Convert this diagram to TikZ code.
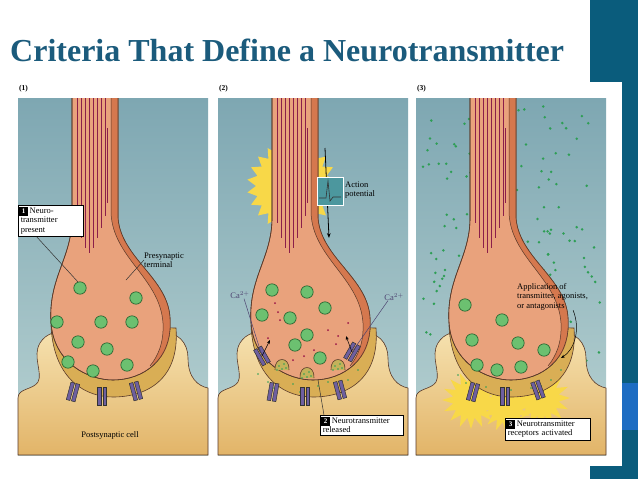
\documentclass[tikz,border=0pt]{standalone}
\usepackage{fontspec}
\setmainfont{Liberation Serif}
\usetikzlibrary{shapes.geometric,arrows.meta}
\definecolor{titleblue}{HTML}{1B5B7C}
\definecolor{barblue}{HTML}{0A5C7C}
\definecolor{bandblue}{HTML}{1D6CC2}
\definecolor{skytop}{HTML}{7EA7B2}
\definecolor{skybot}{HTML}{B8D2D2}
\definecolor{cellt}{HTML}{F6E2B0}
\definecolor{cellb}{HTML}{E2B468}
\definecolor{cleft}{HTML}{D9AE55}
\definecolor{bulb}{HTML}{E9A27C}
\definecolor{bulbd}{HTML}{D5784E}
\definecolor{strl}{HTML}{8B1E4A}
\definecolor{outl}{HTML}{5A3A2A}
\definecolor{ves}{HTML}{6CC070}
\definecolor{vesd}{HTML}{1D5E2A}
\definecolor{rcp}{HTML}{6E5FA0}
\definecolor{sun}{HTML}{F8D848}
\definecolor{dotg}{HTML}{2E9E55}
\tikzset{
  outline/.style={draw=outl,line width=0.6pt},
  vesicle/.style={fill=ves,draw=vesd,line width=0.6pt},
  rcpbar/.style={fill=rcp,draw=black!80,line width=0.5pt},
  lbox/.style={draw=black,fill=white,line width=0.5pt,font=\fontsize{8.5}{9.5}\selectfont,align=left,inner sep=2.5pt},
  lbl/.style={font=\fontsize{8.5}{9.5}\selectfont,align=left,inner sep=0pt},
  numsq/.style={fill=black,text=white,font=\fontsize{7}{7}\selectfont\bfseries,inner sep=1pt,minimum size=8.5pt},
  pnum/.style={font=\fontsize{7.5}{7.5}\selectfont\bfseries,inner sep=0pt},
  ptr/.style={draw=black!80,line width=0.5pt},
  burst/.style={star,star points=16,star point ratio=1.6,fill=sun,inner sep=0pt},
}
\newcommand\rcpt[3]{\begin{scope}[shift={(#1,#2)},rotate=#3]
 \filldraw[rcpbar] (-4.5,-9) rectangle (-0.8,9);
 \filldraw[rcpbar] (0.8,-9) rectangle (4.5,9);
\end{scope}}
\newcommand\skyback{%
 \shade[top color=skytop,bottom color=skybot] (0,0) rectangle (190,357);}
\newcommand\postcell{%
 \shade[top color=cellt,bottom color=cellb,outline]
  (0,357) -- (0,300) .. controls (0,290) and (15,292) .. (20,284)
  .. controls (25,275) and (14,258) .. (22,245) .. controls (28,235) and (40,232) .. (50,235)
  -- (140,235) .. controls (160,232) and (170,245) .. (170,260)
  .. controls (170,280) and (180,288) .. (190,290) -- (190,357) -- cycle;}
\newcommand\presyn{%
 \fill[cleft,outline] (33,228) .. controls (36,284) and (70,299) .. (95,299)
  .. controls (128,299) and (162,282) .. (158,230) -- cycle;
 \fill[bulb,outline] (54,0) -- (54,120) .. controls (54,160) and (30,180) .. (33,225)
  .. controls (36,265) and (70,282) .. (95,282) .. controls (125,282) and (155,262) .. (152,220)
  .. controls (150,180) and (103,160) .. (100,120) -- (100,0);
 \fill[bulbd] (93,0) -- (93,115) .. controls (95,160) and (142,180) .. (145,225)
  .. controls (146,245) and (140,258) .. (132,268) .. controls (150,258) and (153,240) .. (152,220)
  .. controls (150,180) and (103,160) .. (100,120) -- (100,0) -- cycle;
 \draw[outl,line width=0.5pt] (93,0) -- (93,115) .. controls (95,160) and (142,180) .. (145,225)
  .. controls (146,245) and (140,258) .. (132,268);
 \draw[outl,line width=0.6pt] (54,0) -- (54,120) .. controls (54,160) and (30,180) .. (33,225)
  .. controls (36,265) and (70,282) .. (95,282) .. controls (125,282) and (155,262) .. (152,220)
  .. controls (150,180) and (103,160) .. (100,120) -- (100,0);
 \foreach \x/\e in {59/125,63/140,67/150,71/155,75/150,79/140,83/130,87/118}
  \draw[strl,line width=0.7pt] (\x,0) -- (\x,\e);
 \draw[strl,line width=0.7pt] (89,30) -- (89,105);
}
\begin{document}
\begin{tikzpicture}[x=1pt,y=-1pt]
\useasboundingbox (0,0) rectangle (638,479);
\fill[white] (0,0) rectangle (638,479);
\fill[barblue] (590,0) rectangle (638,479);
\fill[bandblue] (590,383) rectangle (638,430);
\fill[white] (12,82) rectangle (622,466);
\node[anchor=base west,inner sep=0pt,text=titleblue,font=\fontsize{32}{32}\selectfont\bfseries] (title) at (10,61) {Criteria That Define a Neurotransmitter};

% ---------- Panel 1
\node[pnum,anchor=west] (n1) at (19,89) {(1)};
\begin{scope}[shift={(18,98)}]
 \skyback
 \postcell
 \presyn
 \foreach \p in {(62,190),(118,200),(39,224),(83,224),(114,224),(60,244),(89,251),(50,264),(75,273),(109,267)}
  \filldraw[vesicle] \p circle (6.2);
 \rcpt{55}{294}{-15}\rcpt{84}{298}{0}\rcpt{118}{293}{15}
 \node[lbox,anchor=north west,text width=60pt] (box1) at (0,107) {\hspace*{9pt}Neuro-\\transmitter\\present};
 \node[numsq] (sq1) at (5.5,113.5) {1};
 \draw[ptr] (box1.south) ++(-14,0) -- (60,184);
 \node[lbl,anchor=west] (pre) at (126,162) {Presynaptic\\terminal};
 \draw[ptr] (pre.west) -- (108,182);
 \node[lbl] (post) at (92,337) {Postsynaptic cell};
\end{scope}

% ---------- Panel 2
\node[pnum,anchor=west] (n2) at (219,89) {(2)};
\begin{scope}[shift={(218,98)}]
 \skyback
 \node[star,star points=22,star point ratio=1.25,fill=sun,minimum size=90pt,inner sep=0pt] (sun2) at (74,88) {};
 \postcell
 \presyn
 \foreach \p in {(54,192),(89,194),(44,217),(72,220),(107,210),(89,237),(77,247),(102,260)}
  \filldraw[vesicle] \p circle (6.2);
 \foreach \x/\y in {64/266,89/274,120/266}{
  \filldraw[fill=cleft!80!ves,outline] (\x-7,\y+6) .. controls (\x-8,\y-8) and (\x+8,\y-8) .. (\x+7,\y+6);
  \foreach \a/\b in {-3/2,2/0,0/5,4/4,-5/6}\fill[dotg] (\x+\a,\y+\b) circle (0.9);}
 \foreach \a/\b in {40/276,50/284,75/286,100/288,110/284,140/272,55/290,130/282,82/294}\fill[dotg] (\a,\b) circle (0.9);
 \foreach \a/\b in {57/205,60/214,62/222,120/238,118/246,110/232,75/262,86/258,96/252,50/240,130/225}\fill[strl!70!purple] (\a,\b) circle (1);
 \rcpt{55}{294}{-10}\rcpt{87}{298}{0}\rcpt{122}{292}{15}
 \rcpt{44}{258}{30}\rcpt{134}{254}{-30}
 \draw[-{Stealth[length=4pt]},line width=0.5pt] (44,258) -- (52,242);
 \draw[-{Stealth[length=4pt]},line width=0.5pt] (134,254) -- (128,238);
 \node[lbl,text=rcp!70!black] (ca1) at (22,197) {Ca$^{2+}$};
 \node[lbl,text=rcp!70!black] (ca2) at (176,199) {Ca$^{2+}$};
 \draw[ptr,rcp!70!black] (ca1.south) ++(4,0) -- (44,258);
 \draw[ptr,rcp!70!black] (ca2.south) ++(-6,0) -- (134,254);
 \draw[-{Stealth[length=5pt]},line width=0.8pt] (107,50) -- (111,140);
 \node[draw=white,line width=0.8pt,fill=teal!40!skytop,minimum width=26pt,minimum height=28pt,inner sep=0pt] (ap) at (112,93) {};
 \draw[black!80,line width=0.6pt] (101,100) -- (108,100) -- (110,83) -- (112,103) -- (115,99) -- (123,99);
 \node[lbl,anchor=west] (aptext) at (127,92) {Action\\potential};
 \node[lbox,anchor=north west,text width=78pt] (box2) at (102,317) {\hspace*{9pt}Neurotransmitter\\ released};
 \node[numsq] (sq2) at (107.5,323.5) {2};
 \draw[ptr] (box2.north west) ++(4,0) -- (100,282);
\end{scope}

% ---------- Panel 3
\node[pnum,anchor=west] (n3) at (417,89) {(3)};
\begin{scope}[shift={(416,98)}]
 \skyback
 \pgfmathsetseed{5}
 \foreach \k in {1,...,170}{
  \pgfmathsetmacro\dx{5+180*rnd}\pgfmathsetmacro\dy{8+285*rnd}
  \fill[dotg] (\dx,\dy) circle (1.4);}
 \postcell
 \node[burst,minimum size=58pt] (b1) at (55,302) {};
 \node[burst,minimum size=58pt] (b2) at (125,300) {};
 \node[burst,minimum size=52pt] (b3) at (90,308) {};
 \presyn
 \foreach \p in {(49,207),(86,222),(56,242),(102,245),(128,252),(61,267),(81,272),(105,269)}
  \filldraw[vesicle] \p circle (6.2);
 \foreach \a/\b in {42/277,50/285,70/289,95/292,115/290,135/282,145/272,60/292,85/295,125/288}\fill[dotg] (\a,\b) circle (0.9);
 \rcpt{57}{294}{-15}\rcpt{89}{298}{0}\rcpt{122}{292}{20}
 \node[lbl,anchor=north west] (app) at (101,185) {Application of\\transmitter, agonists,\\or antagonists};
 \draw[-{Stealth[length=4pt]},line width=0.5pt] (app.south east) ++(-15,0) .. controls (165,232) and (158,252) .. (145,260);
 \node[lbox,anchor=north west,text width=80pt] (box3) at (89,320) {\hspace*{9pt}Neurotransmitter\\receptors activated};
 \node[numsq] (sq3) at (94.5,326.5) {3};
\end{scope}
\end{tikzpicture}
\end{document}
